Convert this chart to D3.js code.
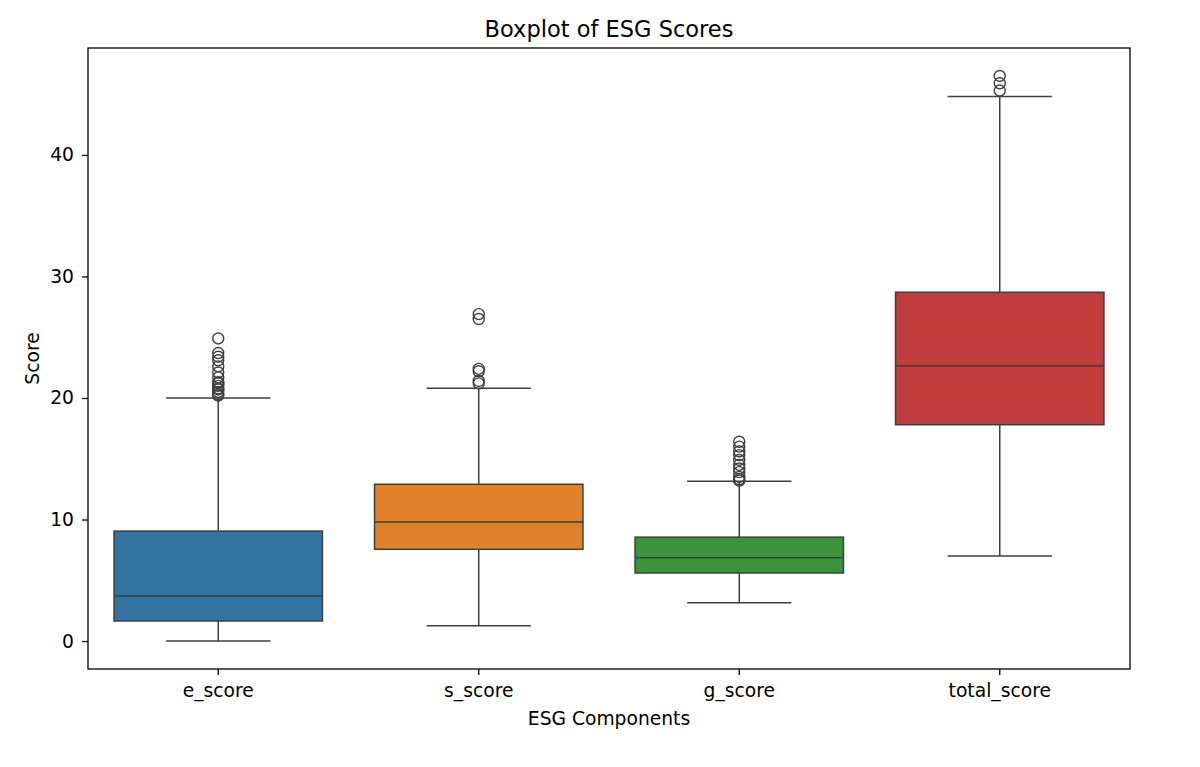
<!DOCTYPE html>
<html><head><meta charset="utf-8">
<script src="https://cdn.jsdelivr.net/npm/d3@7"></script>
<style>body{margin:0;background:#fff}svg{font-family:"DejaVu Sans",sans-serif}</style>
</head><body>
<svg id="c" width="1200" height="767"></svg>
<script>
const categories = ["e_score","s_score","g_score","total_score"];
const colors = ["#3274a1","#e1812c","#3a923a","#c03d3e"];
const q1 = [1.65, 7.55, 5.6, 17.8];
const medians = [3.7, 9.8, 6.85, 22.65];
const q3 = [9.05, 12.9, 8.55, 28.7];
const whiskLow = [0.0, 1.25, 3.15, 7.0];
const whiskHigh = [20.0, 20.8, 13.15, 44.8];
const outliers = [
  [20.2,20.3,20.5,20.7,20.8,21.0,21.2,21.3,21.7,22.1,22.6,23.1,23.4,23.7,24.9],
  [21.2,21.4,22.2,22.4,26.5,26.9],
  [13.2,13.3,13.5,13.9,14.2,14.5,14.9,15.3,15.6,16.0,16.4],
  [45.3,45.9,46.5]
];
const yTicks = [0,10,20,30,40];

const svg = d3.select("#c");
const m = {l:88, r:1130, t:48, b:669};
const x = d3.scaleBand().domain(categories).range([m.l, m.r]).paddingInner(0).paddingOuter(0);
const y = d3.scaleLinear().domain([-2.3, 48.8]).range([m.b, m.t]);
const bw = x.bandwidth()*0.8;
const lc = "#3f3f3f";

categories.forEach((c,i)=>{
  const cx = x(c) + x.bandwidth()/2;
  const g = svg.append("g");
  g.append("line").attr("x1",cx).attr("x2",cx).attr("y1",y(whiskLow[i])).attr("y2",y(q1[i])).attr("stroke",lc).attr("stroke-width",1.5);
  g.append("line").attr("x1",cx).attr("x2",cx).attr("y1",y(q3[i])).attr("y2",y(whiskHigh[i])).attr("stroke",lc).attr("stroke-width",1.5);
  [whiskLow[i], whiskHigh[i]].forEach(v=>{
    g.append("line").attr("x1",cx-bw/4).attr("x2",cx+bw/4).attr("y1",y(v)).attr("y2",y(v)).attr("stroke",lc).attr("stroke-width",1.5);
  });
  g.append("rect").attr("x",cx-bw/2).attr("width",bw).attr("y",y(q3[i])).attr("height",y(q1[i])-y(q3[i]))
    .attr("fill",colors[i]).attr("stroke",lc).attr("stroke-width",1.5);
  g.append("line").attr("x1",cx-bw/2).attr("x2",cx+bw/2).attr("y1",y(medians[i])).attr("y2",y(medians[i])).attr("stroke",lc).attr("stroke-width",1.5);
  g.selectAll("circle").data(outliers[i]).enter().append("circle")
    .attr("cx",cx).attr("cy",d=>y(d)).attr("r",5.5).attr("fill","none").attr("stroke",lc).attr("stroke-width",1.4);
});

const yAxis = svg.append("g").attr("transform",`translate(${m.l},0)`)
  .call(d3.axisLeft(y).tickValues(yTicks).tickSize(6).tickPadding(8).tickFormat(d3.format("d")));
const xAxis = svg.append("g").attr("transform",`translate(0,${m.b})`)
  .call(d3.axisBottom(x).tickSize(6).tickPadding(9));
[yAxis,xAxis].forEach(a=>{
  a.select(".domain").remove();
  a.selectAll("line").attr("stroke","#000").attr("stroke-width",1.3);
  a.selectAll("text").attr("font-size","18.7px").attr("fill","#000").attr("font-family","DejaVu Sans");
});
svg.append("rect").attr("x",m.l).attr("y",m.t).attr("width",m.r-m.l).attr("height",m.b-m.t)
  .attr("fill","none").attr("stroke","#000").attr("stroke-width",1.3);

svg.append("text").attr("x",(m.l+m.r)/2).attr("y",37).attr("text-anchor","middle")
  .attr("font-size","22.5px").text("Boxplot of ESG Scores");
svg.append("text").attr("x",(m.l+m.r)/2).attr("y",725).attr("text-anchor","middle")
  .attr("font-size","18.7px").text("ESG Components");
svg.append("text").attr("transform",`translate(39,${(m.t+m.b)/2}) rotate(-90)`).attr("text-anchor","middle")
  .attr("font-size","18.7px").text("Score");
</script>
</body></html>
